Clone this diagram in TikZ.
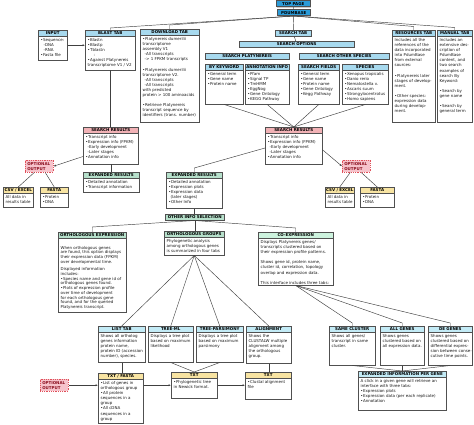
\documentclass[tikz,border=0pt]{standalone}
\usepackage{fontspec}
\setmainfont{DejaVu Sans}
\usetikzlibrary{calc,arrows.meta,shadows}
\definecolor{hdark}{HTML}{2B9BD8}
\definecolor{hblue}{HTML}{A7D9EE}
\definecolor{hpink}{HTML}{F2B2B6}
\definecolor{hyel}{HTML}{F8E4A2}
\definecolor{hgreen}{HTML}{B6E0CB}
\definecolor{hmint}{HTML}{CDF3DE}
\definecolor{hcyan}{HTML}{C3EBF6}
\definecolor{optfill}{HTML}{F6C3CB}
\definecolor{optline}{HTML}{E0505A}
\definecolor{opttext}{HTML}{8B1020}
\definecolor{bord}{HTML}{505050}
\newcommand{\myBody}{\fontsize{4}{5.1}\selectfont}
\newcommand{\myHdr}{\fontsize{4}{4.9}\selectfont\bfseries}
\newcommand{\mkbox}[8]{%
  \node[bodybox, anchor=north west, minimum width={(#4-#2)*1pt}, minimum height={(#5-#3)*1pt}] (#1) at (#2,#3) {};
  \node[#6, anchor=north west, minimum width={(#4-#2)*1pt}] (#1-h) at (#2,#3) {#7};
  \node[bodytext, anchor=north west] (#1-t) at ($(#1.north west)+(2.5,8.2)$) {#8};
}
\newcommand{\mkbar}[7]{%
  \node[#6, anchor=north west, minimum width={(#4-#2)*1pt}, minimum height={(#5-#3)*1pt}] (#1) at (#2,#3) {#7};
}
\begin{document}
\begin{tikzpicture}[x=1pt,y=-1pt,
  shad/.style={drop shadow={shadow xshift=0.8pt, shadow yshift=-0.8pt, fill=black!35, opacity=0.6}},
  bodybox/.style={draw=bord, fill=white, line width=0.5pt, inner sep=0pt, shad},
  hdr/.style={draw=bord, line width=0.5pt, inner sep=0pt, minimum height=6pt, font=\myHdr, text=black},
  hd/.style={hdr, fill=hdark},
  hb/.style={hdr, fill=hblue},
  hp/.style={hdr, fill=hpink},
  hy/.style={hdr, fill=hyel},
  hg/.style={hdr, fill=hgreen},
  hm/.style={hdr, fill=hmint},
  hc/.style={hdr, fill=hcyan},
  bodytext/.style={inner sep=0pt, align=left, font=\myBody, text=black!90},
  opt/.style={draw=optline, dash pattern=on 1pt off 0.8pt, line width=0.5pt, fill=optfill,
     minimum width=28pt, minimum height=12pt, text width=24pt, inner xsep=2pt, inner ysep=0pt,
     align=left, font=\fontsize{4}{5}\selectfont\bfseries, text=opttext},
  conn/.style={draw=black!75, line width=0.45pt},
  arr/.style={conn, -{Latex[length=2.4pt,width=2pt]}}
]
\fill[white] (0,0) rectangle (474,425);
\useasboundingbox (0,0) rectangle (474,425);

% bars
\mkbar{top}{276}{0.5}{310}{6.5}{hd,shad}{TOP PAGE}
\mkbar{pdum}{277}{9.5}{310}{15.5}{hd,shad}{PDUMBASE}
\mkbar{stab}{275}{30}{311}{36}{hb,shad}{SEARCH TAB}
\mkbar{sopt}{239}{41}{354}{47}{hb,shad}{SEARCH OPTIONS}
\mkbar{splat}{205}{53}{289}{59}{hb,shad}{SEARCH PLATYNEREIS}
\mkbar{sother}{299}{53}{389}{59}{hb,shad}{SEARCH OTHER SPECIES}
\mkbar{other}{165}{214}{224}{220}{hg,shad}{OTHER INFO SELECTION}

% top row
\mkbox{input}{38}{30}{67}{60}{hb}{INPUT}{•Sequence:\\\hspace*{3pt}-DNA\\\hspace*{3pt}-RNA\\•Fasta file}
\mkbox{blast}{85}{30}{135}{70}{hb}{BLAST TAB}{•Blastn\\•Blastp\\•Tblastn\\\hspace*{6pt}:\\•Against Platynereis\\transcriptome V1 / V2}
\mkbox{download}{140}{29}{199}{122}{hb}{DOWNLOAD TAB}{•Platynereis dumerilii\\transcriptome\\assembly V1\\\hspace*{2pt}-All transcripts\\\hspace*{2pt}-> 1 FPKM transcripts\\[5.1pt]•Platynereis dumerilii\\transcriptome V2.\\\hspace*{2pt}-All transcripts\\\hspace*{2pt}-All transcripts\\with predicted\\protein > 100 aminoacids\\[5.1pt]•Retrieve Platynereis\\transcript sequence by\\identifiers (trans. number)}
\mkbox{keyword}{205}{64}{243}{104}{hb}{BY KEYWORD}{•General term\\•Gene name\\•Protein name}
\mkbox{annot}{245}{64}{289}{104}{hb}{ANNOTATION INFO}{•Pfam\\•Signal TP\\•TmHMM\\•EggNog\\•Gene Ontology\\•KEGG Pathway}
\mkbox{fields}{298}{64}{339}{104}{hb}{SEARCH FIELDS}{•General term\\•Gene name\\•Protein name\\•Gene Ontology\\•Kegg Pathway}
\mkbox{species}{342}{64}{388}{104}{hb}{SPECIES}{•Xenopus tropicalis\\•Danio rerio\\•Nematostella v.\\•Ascaris suum\\•Strongylocentrotus\\•Homo sapiens}
\mkbox{resources}{392}{30}{435}{122}{hb}{RESOURCES TAB}{Includes all the\\references of the\\data incorporated\\into PdumBase\\from external\\sources:\\[5.1pt]•Platynereis later\\stages of develop-\\ment.\\[5.1pt]•Other species:\\expression data\\during develop-\\ment.}
\mkbox{manual}{437}{30}{472}{122}{hb}{MANUAL TAB}{Includes an\\extensive des-\\cription of\\PdumBase\\content, and\\two search\\examples of\\search By\\Keyword:\\[5.1pt]•Search by\\gene name\\[5.1pt]•Search by\\general term}

% search results
\mkbox{srl}{83}{127}{138}{164}{hp}{SEARCH RESULTS}{•Transcript info\\•Expression info (FPKM)\\\hspace*{2pt}-Early development\\\hspace*{2pt}-Later stages\\•Annotation info}
\mkbox{src}{265}{127}{322}{164}{hp}{SEARCH RESULTS}{•Transcript info\\•Expression info (FPKM)\\\hspace*{2pt}-Early development\\\hspace*{2pt}-Later stages\\•Annotation info}

\node[opt, anchor=north west] (optl) at (25,160) {OPTIONAL\\OUTPUT};
\node[opt, anchor=north west] (optr) at (342,160) {OPTIONAL\\OUTPUT};
\node[opt, anchor=north west] (optb) at (40,379) {OPTIONAL\\OUTPUT};

\mkbox{csvl}{3}{187}{33}{207}{hy}{CSV / EXCEL}{All data in\\results table}
\mkbox{fastal}{40}{187}{68}{207}{hy}{FASTA}{•Protein\\•DNA}
\mkbox{csvr}{325}{187}{354}{207}{hy}{CSV / EXCEL}{All data in\\results table}
\mkbox{fastar}{360}{187}{394}{207}{hy}{FASTA}{•Protein\\•DNA}

\mkbox{erl}{83}{172}{139}{192}{hg}{EXPANDED RESULTS}{•Detailed annotation\\•Transcript information}
\mkbox{erc}{166}{172}{222}{208}{hg}{EXPANDED RESULTS}{•Detailed annotation\\•Expression plots\\•Expression data\\\hspace*{2pt}(later stages)\\•Other Info}

% other info
\node[bodybox, anchor=north west, minimum width=68pt, minimum height=80pt] (orthexp) at (58,232) {};
\node[hg, anchor=north west, minimum width=68pt] (orthexp-h) at (58,232) {ORTHOLOGOUS EXPRESSION};
\node[bodytext, anchor=north west, font=\fontsize{4}{4.75}\selectfont] (orthexp-t) at (60.5,240.2) {\rule{0pt}{3pt}\\[1pt]When orthologous genes\\are found, this option displays\\their expression data (FPKM)\\over developmental time.\\[2.5pt]Displayed information\\includes:\\•Species name and gene id of\\orthologous genes found.\\•Plots of expression profile\\over time of development\\for each orthologous gene\\found, and for the queried\\Platynereis transcript.};
\mkbox{orthgrp}{164}{231}{224}{255}{hg}{ORTHOLOGOUS GROUPS}{Phylogenetic analysis\\among orthologous genes\\is summarized in four tabs}
\mkbox{coexp}{258}{232}{333}{285}{hm}{CO-EXPRESSION}{Displays Platynereis genes/\\transcripts clustered based on\\their expression profile patterns.\\[5.1pt]Shows gene id, protein name,\\cluster id, correlation, topology\\overlap and expression data.\\[5.1pt]This interface includes three tabs:}

\mkbox{listtab}{98}{326}{145}{362}{hc}{LIST TAB}{Shows all ortholog\\genes information\\protein name,\\protein ID (accession\\number), species.}
\mkbox{treeml}{148}{326}{193}{362}{hc}{TREE-ML}{Displays a tree plot\\based on maximum\\likelihood}
\mkbox{treepars}{196}{326}{243}{362}{hc}{TREE-PARSIMONY}{Displays a tree plot\\based on maximum\\parsimony}
\mkbox{alignb}{246}{326}{291}{363}{hc}{ALIGNMENT}{Shows the\\CLUSTALW multiple\\alignment among\\the orthologous\\group.}
\mkbox{samecl}{329}{326}{375}{365}{hc}{SAME CLUSTER}{Shows all genes/\\transcript in same\\cluster.}
\mkbox{allg}{380}{326}{424}{365}{hc}{ALL GENES}{Shows genes\\clustered based on\\all expression data.}
\mkbox{deg}{428}{326}{472}{365}{hc}{DE GENES}{Shows genes\\clustered based on\\differential expres-\\sion between conse-\\cutive time points.}
\mkbox{expinfo}{358}{371}{446}{410}{hc}{EXPANDED INFORMATION PER GENE}{A click in a given gene will retrieve an\\interface with three tabs:\\•Expression plots\\•Expression data (per each replicate)\\•Annotation}

\mkbox{txtf}{98}{373}{143}{423}{hy}{TXT / FASTA}{•List of genes in\\orthologous group\\•All protein\\sequences in a\\group\\•All cDNA\\sequences in a\\group}
\mkbox{txtml}{171}{372}{217}{398}{hy}{TXT}{•Phylogenetic tree\\in Newick format.}
\mkbox{txtal}{245}{372}{291}{399}{hy}{TXT}{•Clustal alignment\\file}

% connectors
\draw[conn] (top) -- (pdum);
\draw[conn] (pdum.south) -- ($(blast.north)+(0,-2)$) -- (blast.north);
\draw[conn] (pdum.south) -- ($(download.north)+(0,-4)$) -- (download.north);
\draw[conn] (pdum.south) -- ($(resources.north)+(0,-3.5)$) -- (resources.north);
\draw[conn] (pdum.south) -- ($(manual.north)+(0,-2.5)$) -- (manual.north);
\draw[conn] (pdum) -- (stab);
\draw[conn] (stab) -- (sopt);
\draw[conn] (keyword.south) -- (src.north);
\draw[conn] (annot.south) -- (src.north);
\draw[conn] (fields.south) -- (src.north);
\draw[conn] (species.south) -- (src.north);
\draw[arr] (input.east) -- (input.east -| blast.west);
\draw[conn] (blast.south) -- (blast.south |- srl.north);
\draw[arr] ($(srl.south west)+(0,-8)$) -- (optl.east);
\draw[conn] ($(optl.south)+(-5,0)$) -- (csvl.north);
\draw[conn] ($(optl.south)+(6,0)$) -- (fastal.north);
\draw[conn] (srl.south) -- (srl.south |- erl.north);
\draw[conn] ($(src.north west)+(0,21)$) -- ($(erc.north)+(0,-4)$) -- (erc.north);
\draw[arr] ($(src.east)+(0,4)$) -- (optr.west);
\draw[conn] ($(optr.south)+(-6,0)$) -- (csvr.north);
\draw[conn] ($(optr.south)+(5,0)$) -- (fastar.north);
\draw[conn] (erc.south) -- (erc.south |- other.north);
\draw[conn] (other.south) -- ($(orthexp.north)+(0,-5)$) -- (orthexp.north);
\draw[conn] (other.south) -- (other.south |- orthgrp.north);
\draw[conn] (other.south) -- ($(coexp.north)+(0,-4)$) -- (coexp.north);
\draw[conn] (orthgrp.south) -- (listtab.north);
\draw[conn] (orthgrp.south) -- (treeml.north);
\draw[conn] (orthgrp.south) -- (treepars.north);
\draw[conn] (orthgrp.south) -- (alignb.north);
\draw[conn] (listtab.south) -- (listtab.south |- txtf.north);
\draw[conn] (treeml.south) -- (txtml.north);
\draw[conn] (treepars.south) -- (txtml.north);
\draw[conn] (alignb.south) -- (alignb.south |- txtal.north);
\draw[arr] (optb.east) -- (optb.east -| txtf.west);
\draw[arr] (txtf.east |- txtml.west) -- (txtml.west);
\draw[arr] (txtml.east) -- (txtml.east -| txtal.west);
\draw[conn] (coexp.south) -- ($(samecl.north)+(0,-3)$) -- (samecl.north);
\draw[conn] (coexp.south) -- ($(allg.north)+(0,-3)$) -- (allg.north);
\draw[conn] (coexp.south) -- ($(deg.north)+(0,-3)$) -- (deg.north);
\draw[conn] (samecl.south) -- (expinfo.north);
\draw[conn] (allg.south) -- (expinfo.north);
\draw[conn] (deg.south) -- (expinfo.north);
\end{tikzpicture}
\end{document}
